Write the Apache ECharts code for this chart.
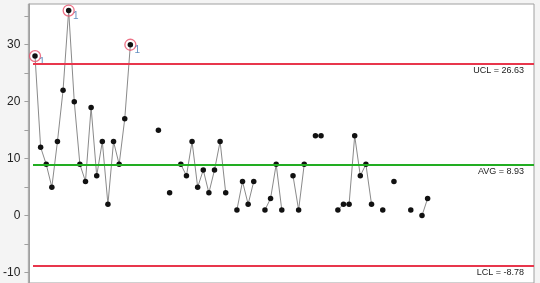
<!DOCTYPE html>
<html>
<head>
<meta charset="utf-8">
<script src="https://cdn.jsdelivr.net/npm/echarts@6/dist/echarts.min.js"></script>
<style>
html,body{margin:0;padding:0;background:#f4f4f4;}
#chart{width:540px;height:283px;}
</style>
</head>
<body>
<div id="chart"></div>
<script>
// Sample numbers (1-based) and measured values (null = missing)
var samples = [];
for (var s = 1; s <= 71; s++) samples.push(s);
var values = [28,12,9,5,13,22,36,20,9,6,19,7,13,2,13,9,17,30,null,null,
  null,null,15,null,4,null,9,7,13,5,8,4,8,13,4,null,1,6,2,6,
  null,1,3,9,1,null,7,1,9,null,14,14,null,null,1,2,2,14,7,9,
  2,null,1,null,6,null,null,1,null,0,3];
var UCL = 26.63, AVG = 8.93, LCL = -8.78;
var limitLabels = ['UCL = 26.63', 'AVG = 8.93', 'LCL = -8.78'];
var yTickLabels = [-10, 0, 10, 20, 30];
var yTicks = [-10, -5, 0, 5, 10, 15, 20, 25, 30, 35];
var ocLabel = '1';

var pts = samples.map(function(s, i){ return [s, values[i]]; });
var ooc = [];
samples.forEach(function(s, i){ if (values[i] !== null && values[i] > UCL) ooc.push([s, values[i]]); });

var XMIN = -0.19, XMAX = 89.97, LSTART = 0.64;
function limitLine(v, label, color){
  return [{coord:[LSTART, v], lineStyle:{color:color, width:2, type:'solid'},
           label:{show:true, formatter:label, position:'insideEndBottom', distance:[10,2],
                  color:'#222', fontSize:9, fontFamily:'Liberation Sans, Arial, sans-serif'}},
          {coord:[XMAX, v]}];
}

var chart = echarts.init(document.getElementById('chart'), null, {renderer:'canvas'});
chart.setOption({
  animation:false,
  backgroundColor:'#f4f4f4',
  grid:{left:27, right:6, top:4, bottom:-1, show:true, backgroundColor:'#ffffff', borderColor:'#a0a0a0', borderWidth:1},
  xAxis:{type:'value', min:XMIN, max:XMAX, show:false},
  yAxis:{type:'value', min:-11.83, max:37.15,
    axisLine:{show:true, lineStyle:{color:'#a0a0a0', width:1}},
    axisTick:{show:true, length:5, lineStyle:{color:'#a0a0a0'}, customValues:yTicks},
    axisLabel:{color:'#222', fontSize:12, margin:8, fontFamily:'Liberation Sans, Arial, sans-serif', customValues:yTickLabels},
    splitLine:{show:false}
  },
  series:[
    {type:'line', data:pts, connectNulls:false, showSymbol:true, showAllSymbol:true,
     symbol:'circle', symbolSize:5.5,
     itemStyle:{color:'#111'}, lineStyle:{color:'#8a8a8a', width:1},
     markLine:{silent:true, symbol:['none','none'],
       data:[limitLine(UCL, limitLabels[0], '#e8364c'),
             limitLine(AVG, limitLabels[1], '#22ad22'),
             limitLine(LCL, limitLabels[2], '#e8364c')]},
     z:3
    },
    {type:'scatter', data:ooc, symbol:'circle', symbolSize:11,
     itemStyle:{color:'rgba(0,0,0,0)', borderColor:'#e8506a', borderWidth:1.3},
     label:{show:true, formatter:ocLabel, position:'inside', offset:[7,6], color:'#3d74b0', fontSize:10,
            fontFamily:'Liberation Sans, Arial, sans-serif'},
     z:4
    }
  ]
});
</script>
</body>
</html>
